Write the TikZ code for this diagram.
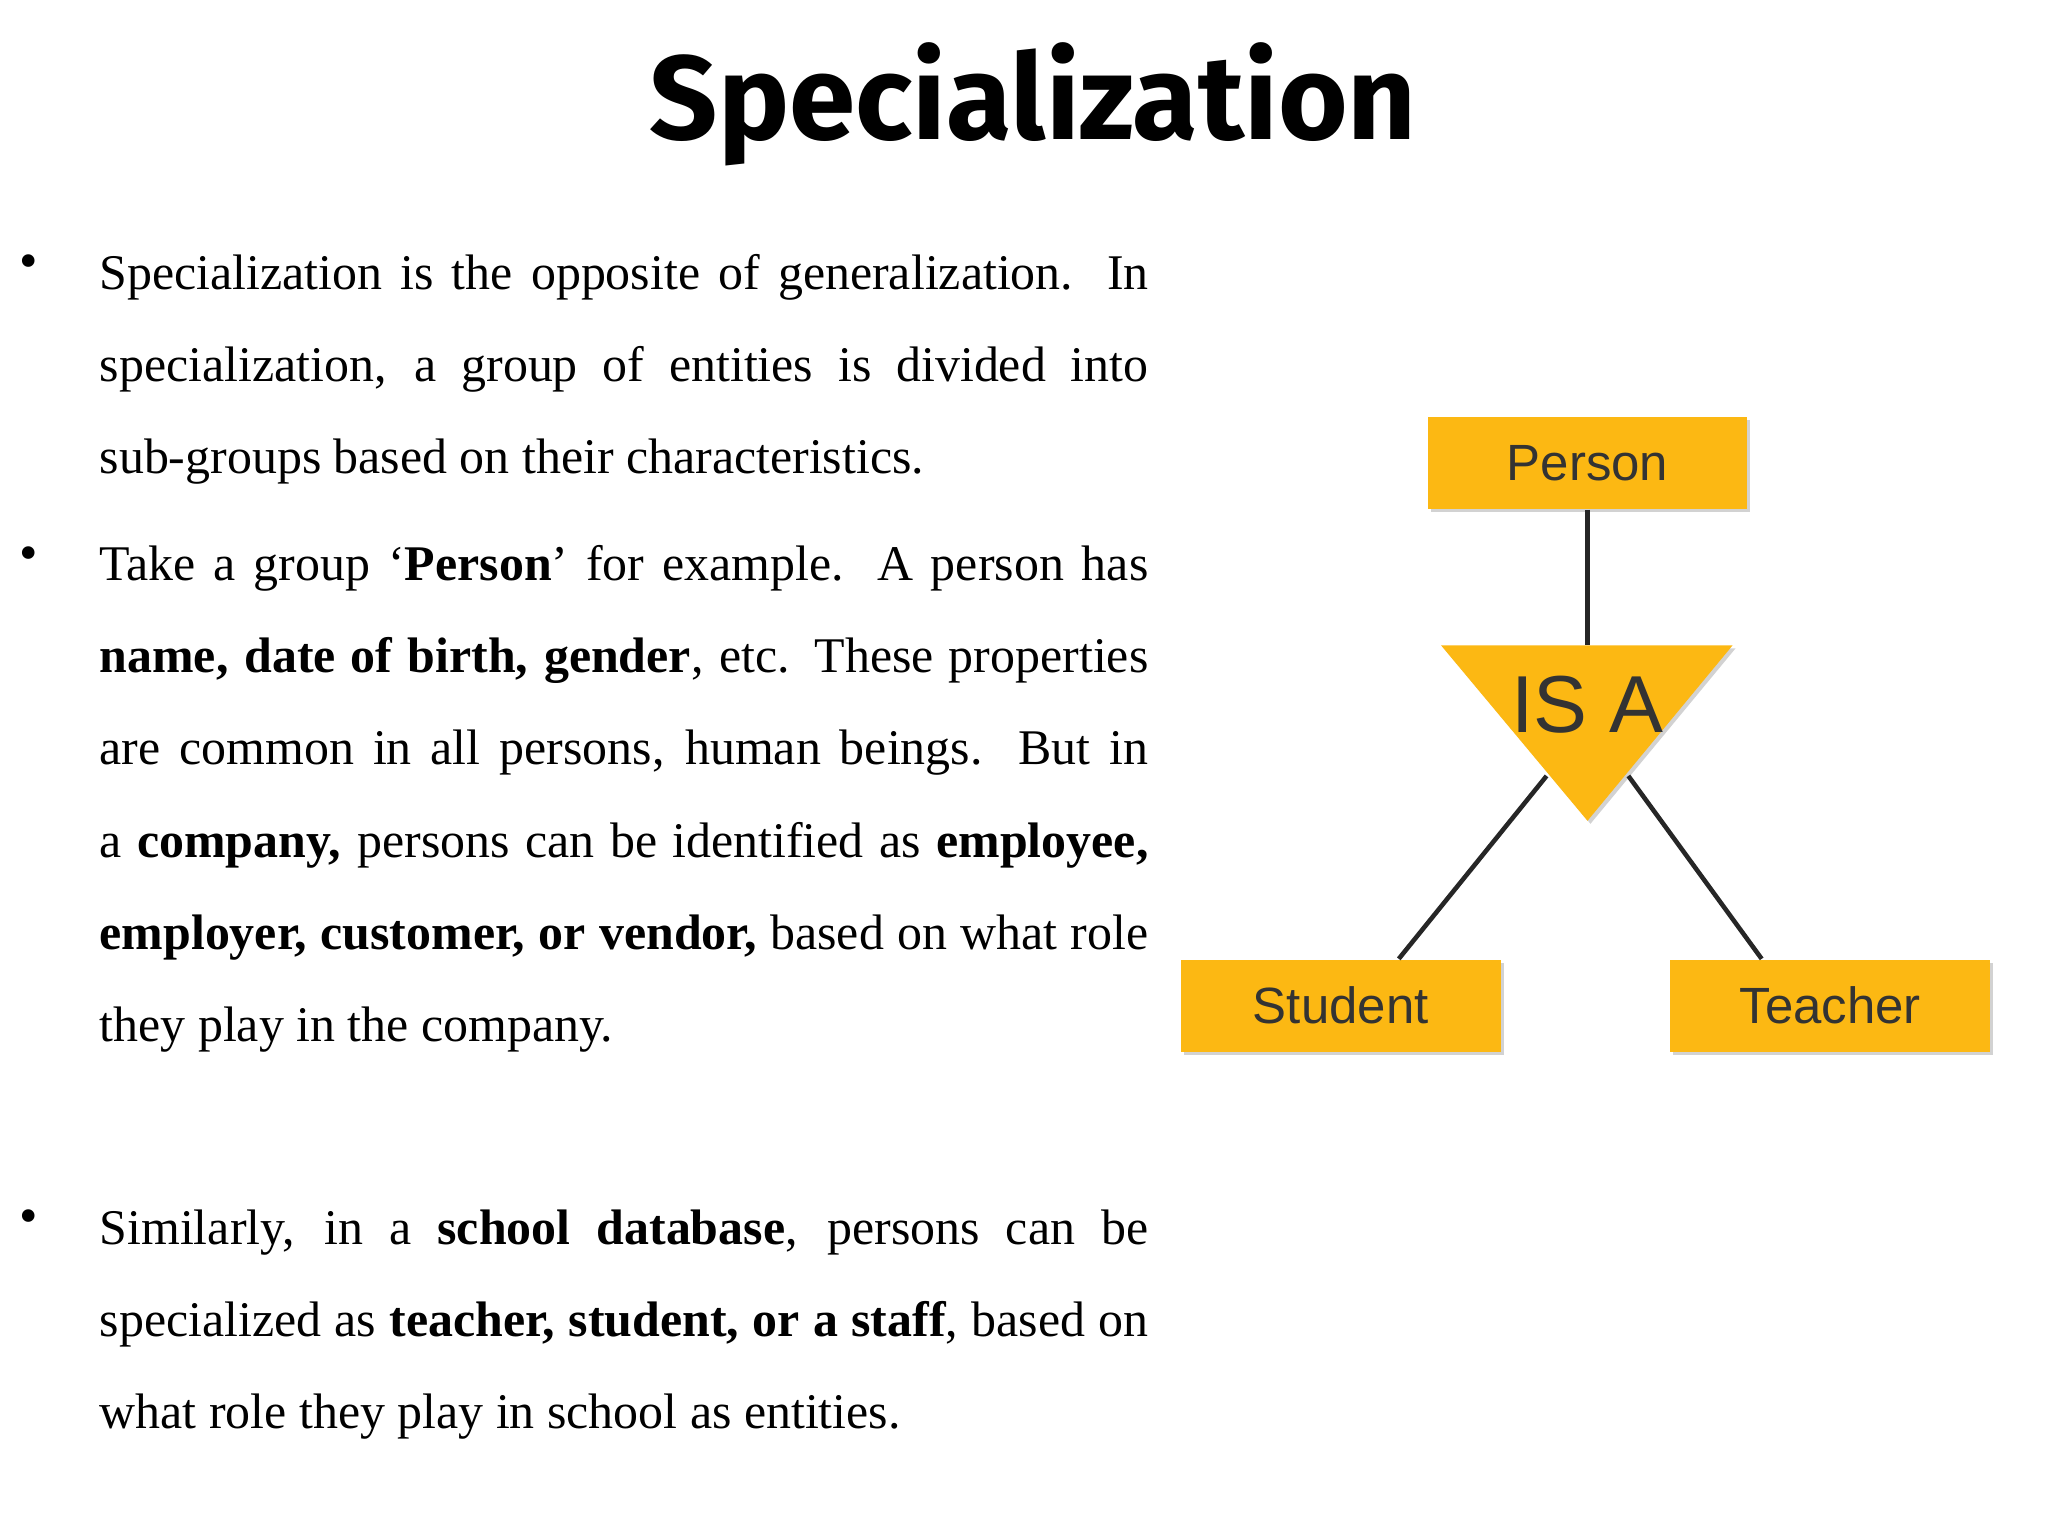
\documentclass[tikz,border=0pt]{standalone}
\usepackage{fontspec}
\setmainfont{Liberation Serif}
\newfontfamily\titlefont{Fira Sans}
\newfontfamily\boxfont{Liberation Sans}
\usetikzlibrary{shadows}
\hyphenpenalty=10000
\exhyphenpenalty=10000
\definecolor{boxyellow}{HTML}{FCB813}
\definecolor{boxtext}{HTML}{333333}
\tikzset{
  ebox/.style={fill=boxyellow,draw=none,minimum width=3.2cm,minimum height=0.92cm,inner sep=0pt,
    font=\boxfont\fontsize{14.5pt}{17pt}\selectfont,text=boxtext,
    drop shadow={shadow xshift=0.03cm,shadow yshift=-0.03cm,opacity=0.35}},
  conn/.style={line width=1.3pt,black!85},
  para/.style={anchor=north west,text width=10.49cm,align=justify,inner sep=0pt,
    font=\fontsize{14.2pt}{26.2pt}\selectfont},
  bul/.style={anchor=base,inner sep=0pt,font=\fontsize{15pt}{20pt}\selectfont}
}
\begin{document}
\begin{tikzpicture}[x=0.013196cm,y=-0.013196cm]
\useasboundingbox[fill=white] (0,0) rectangle (1552,1164);
\node[font=\titlefont\bfseries\fontsize{34pt}{40pt}\selectfont,anchor=base] (title) at (783,106) {Specialization};
% paragraphs
\node[para] (p1) at (75,192) {Specialization is the opposite of generalization. In specialization, a group of entities is divided into sub-groups based on their characteristics.};
\node[para] (p2) at (75,413) {Take a group `\textbf{Person}' for example. A person has \textbf{name, date of birth, gender}, etc. These properties are common in all persons, human beings. But in a \textbf{company,} persons can be identified as \textbf{employee, employer, customer, or vendor,} based on what role they play in the company.};
\node[para] (p3) at (75,916) {Similarly, in a \textbf{school database}, persons can be specialized as \textbf{teacher, student, or a staff}, based on what role they play in school as entities.};
\node[bul] (b1) at (22,211) {•};
\node[bul] (b2) at (22,432) {•};
\node[bul] (b3) at (22,935) {•};
% diagram
\node[ebox] (person) at (1203,351) {Person};
\node[ebox] (student) at (1016,762) {Student};
\node[ebox] (teacher) at (1387,762) {Teacher};
\coordinate (tl) at (1092,489);
\coordinate (tr) at (1313,489);
\coordinate (tb) at (1203,622);
\coordinate (ttop) at (1203,489);
\fill[boxyellow,drop shadow={shadow xshift=0.03cm,shadow yshift=-0.03cm,opacity=0.35}] (tl) -- (tr) -- (tb) -- cycle;
\node[font=\boxfont\fontsize{23pt}{26pt}\selectfont,text=boxtext] (isa) at (1203,534) {IS A};
\coordinate (sl) at (1172,588);
\coordinate (sr) at (1234,588);
\draw[conn] (person.south) -- (ttop);
\draw[conn] (sl) -- (student.north east -| 1060,0);
\draw[conn] (sr) -- (teacher.north west -| 1335,0);
\end{tikzpicture}
\end{document}
